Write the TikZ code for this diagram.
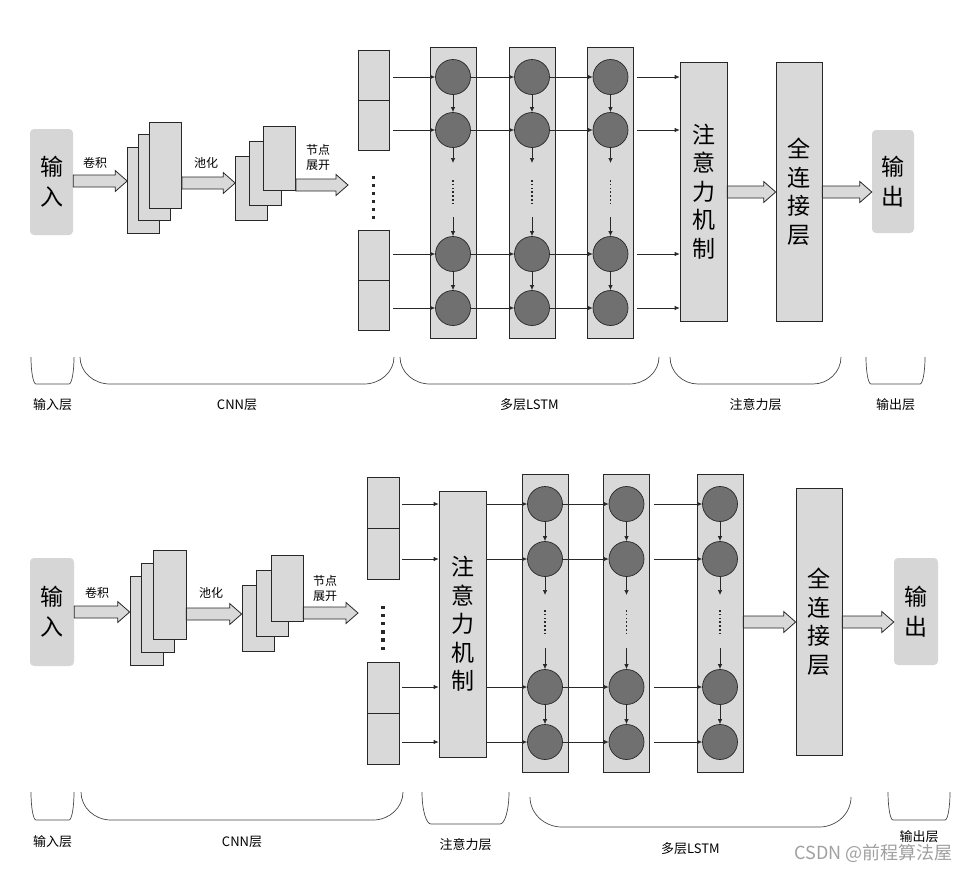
\documentclass[tikz,border=0pt]{standalone}
\usepackage{fontspec}
\newfontfamily\cjk{Noto Sans CJK SC}
\usetikzlibrary{arrows.meta,calc}
\definecolor{boxgray}{RGB}{217,217,217}
\definecolor{iogray}{RGB}{214,214,214}
\definecolor{cellgray}{RGB}{112,112,112}
\definecolor{linegray}{RGB}{40,40,40}
\definecolor{markgray}{RGB}{160,160,160}

\tikzset{
  box/.style={draw=linegray,fill=boxgray,line width=0.7pt,inner sep=0pt},
  iobox/.style={fill=iogray,rounded corners=4pt,inner sep=0pt,align=center,font=\cjk\fontsize{23}{30}\selectfont},
  fmap/.style={box},
  lstmcol/.style={box,minimum width=46pt},
  neuron/.style={circle,draw=linegray,fill=cellgray,line width=0.7pt,minimum size=35pt,inner sep=0pt},
  flow/.style={-{Latex[length=5pt,width=4.5pt]},draw=linegray,line width=0.7pt},
  fat/.style={draw=linegray,fill=boxgray,line width=0.8pt},
  opname/.style={font=\cjk\fontsize{12}{15}\selectfont,align=center},
  layername/.style={font=\cjk\fontsize{13}{15}\selectfont},
  bigtext/.style={font=\cjk\fontsize{23}{28.5}\selectfont,align=center},
  dots/.style={draw=linegray,line width=1.6pt,dash pattern=on 1.6pt off 2.2pt},
  brace/.style={draw=linegray!85,line width=0.7pt},
}

% fat arrow from the x of #1 to the x of #2, at height #3
\newcommand{\fatarrow}[3]{%
  \filldraw[fat] let \p1=(#1), \p2=(#2), \p3=(0,#3) in
    (\x1,\y3+6pt) -- (\x2-12pt,\y3+6pt) -- (\x2-12pt,\y3+10.5pt) -- (\x2,\y3)
    -- (\x2-12pt,\y3-10.5pt) -- (\x2-12pt,\y3-6pt) -- (\x1,\y3-6pt) -- cycle;}
% open bracket under a group of layers: x1, x2, top, bottom, corner width
\newcommand{\layerbrace}[5]{%
  \draw[brace] (#1,#3) .. controls (#1,{#3+0.55*(#4-#3)}) and ({#1+0.45*#5},#4) .. ({#1+#5},#4)
    -- ({#2-#5},#4) .. controls ({#2-0.45*#5},#4) and (#2,{#3+0.55*(#4-#3)}) .. (#2,#3);}

\begin{document}
\begin{tikzpicture}[x=1pt,y=-1pt]
    \useasboundingbox[fill=white] (0,0) rectangle (968,873);

    % ===== upper model: CNN -> LSTM -> attention =====
    % Input and CNN
    \node[iobox,minimum width=43pt,minimum height=106pt] (tin) at (51.5,182) {输\\入};
    \foreach \i/\k in {a/0,b/1,c/2}
        \node[fmap,minimum width=32pt,minimum height=86pt] (tca\i) at (143.5+11*\k,190-12.5*\k) {};
    \foreach \i/\k in {a/0,b/1,c/2}
        \node[fmap,minimum width=32pt,minimum height=64pt] (tpo\i) at (251.5+14*\k,188-14.75*\k) {};
    \coordinate (tflat) at (348,185);
    \fatarrow{tin.east}{tcaa.west}{181}
    \fatarrow{tcac.east}{tpoa.west}{183}
    \fatarrow{tpoc.east}{tflat}{185}
    \node[opname] (tconv) at (95,163) {卷积};
    \node[opname] (tpool) at (206,163) {池化};
    \node[opname] (tunfold) at (318,157) {节点\\展开};

    % Flattened vector
    \foreach \n/\y in {1/75.5,2/125.5,3/255,4/305}
        \node[box,minimum width=31pt,minimum height=50pt] (tv\n) at (373.5,\y) {};
    \foreach \k in {0,...,5}
        \fill[linegray] (371.75,175.5+8*\k) rectangle ++(3.5,3.5);

    % LSTM columns
    \foreach \c/\x in {1/453,2/532,3/610.5} {
        \node[lstmcol,minimum height=291pt] (tcol\c) at (\x,192.5) {};
        \foreach \r/\y in {1/77,2/130,3/254,4/308}
            \node[neuron] (tn\c\r) at (\x,\y) {};
        \coordinate (tdown\c) at (\x,163);
        \coordinate (tdota\c) at (\x,180);
        \coordinate (tdotb\c) at (\x,205);
        \coordinate (tup\c) at (\x,217);
        \draw[flow] (tn\c1) -- (tn\c2);
        \draw[flow] (tn\c2) -- (tdown\c);
        \draw[dots] (tdota\c) -- (tdotb\c);
        \draw[flow] (tup\c) -- (tn\c3);
        \draw[flow] (tn\c3) -- (tn\c4);
    }

    % Attention, dense, output
    \node[box,bigtext,minimum width=47pt,minimum height=259pt] (tatt) at (703.5,191.5) {注\\意\\力\\机\\制};
    \node[box,bigtext,minimum width=46pt,minimum height=259pt] (tfc) at (799,191.5) {全\\连\\接\\层};
    \node[iobox,minimum width=42pt,minimum height=103pt] (tout) at (893,181.5) {输\\出};

    \foreach \r in {1,...,4} {
        \draw[flow,shorten <=4pt] (tv\r.east |- tn1\r) -- (tn1\r);
        \draw[flow] (tn1\r) -- (tn2\r);
        \draw[flow] (tn2\r) -- (tn3\r);
        \draw[flow,shorten <=9pt] (tn3\r) -- (tatt.west |- tn3\r);
    }
    \fatarrow{tatt.east}{tfc.west}{192}
    \fatarrow{tfc.east}{tout.west}{192}

    % Layer groups
    \foreach \xa/\xb/\txt/\rad [count=\i] in {31/74/输入层/5, 80/394/CNN层/30, 400/659/多层LSTM/30, 670/841/注意力层/28, 866/925/输出层/5} {
        \layerbrace{\xa}{\xb}{357}{384}{\rad}
        \node[layername] (tlab\i) at ({(\xa+\xb)/2},405) {\txt};
    }

    % ===== lower model: CNN -> attention -> LSTM =====
    % Input and CNN
    \node[iobox,minimum width=44pt,minimum height=108pt] (bin) at (52,612) {输\\入};
    \foreach \i/\k in {a/0,b/1,c/2}
        \node[fmap,minimum width=33pt,minimum height=89pt] (bca\i) at (146.5+11.5*\k,620.5-12.75*\k) {};
    \foreach \i/\k in {a/0,b/1,c/2}
        \node[fmap,minimum width=32pt,minimum height=66pt] (bpo\i) at (258+14.5*\k,618.5-15.25*\k) {};
    \coordinate (bflat) at (358,613);
    \fatarrow{bin.east}{bcaa.west}{612}
    \fatarrow{bcac.east}{bpoa.west}{614}
    \fatarrow{bpoc.east}{bflat}{613}
    \node[opname] (bconv) at (97,593) {卷积};
    \node[opname] (bpool) at (211,593) {池化};
    \node[opname] (bunfold) at (325,588) {节点\\展开};

    % Flattened vector
    \foreach \n/\y in {1/502.5,2/553.5,3/687.5,4/738.5}
        \node[box,minimum width=32pt,minimum height=51pt] (bv\n) at (383,\y) {};
    \foreach \k in {0,...,5}
        \fill[linegray] (381.25,605.5+8.2*\k) rectangle ++(3.5,3.5);

    % Attention
    \node[box,bigtext,minimum width=47pt,minimum height=266pt] (batt) at (462.5,624) {注\\意\\力\\机\\制};

    % LSTM columns
    \foreach \c/\x in {1/545,2/626.5,3/720} {
        \node[lstmcol,minimum height=298pt] (bcol\c) at (\x,623) {};
        \foreach \r/\y in {1/504,2/559,3/687,4/742}
            \node[neuron] (bn\c\r) at (\x,\y) {};
        \coordinate (bdown\c) at (\x,595);
        \coordinate (bdota\c) at (\x,610);
        \coordinate (bdotb\c) at (\x,635);
        \coordinate (bup\c) at (\x,648);
        \draw[flow] (bn\c1) -- (bn\c2);
        \draw[flow] (bn\c2) -- (bdown\c);
        \draw[dots] (bdota\c) -- (bdotb\c);
        \draw[flow] (bup\c) -- (bn\c3);
        \draw[flow] (bn\c3) -- (bn\c4);
    }

    % Dense and output
    \node[box,bigtext,minimum width=46pt,minimum height=267pt] (bfc) at (819,621.5) {全\\连\\接\\层};
    \node[iobox,minimum width=44pt,minimum height=107pt] (bout) at (916,611.5) {输\\出};

    \foreach \r in {1,...,4} {
        \draw[flow,shorten <=3pt] (bv\r.east |- bn1\r) -- (batt.west |- bn1\r);
        \draw[flow] (batt.east |- bn1\r) -- (bn1\r);
        \draw[flow] (bn1\r) -- (bn2\r);
        \draw[flow,shorten <=10pt] (bn2\r) -- (bn3\r);
    }
    \fatarrow{bcol3.east}{bfc.west}{622}
    \fatarrow{bfc.east}{bout.west}{622}

    % Layer groups
    \foreach \xa/\xb/\ya/\yb/\yl/\txt/\rad [count=\i] in {31/74/792/820/842/输入层/5, 81/403/792/820/842/CNN层/30, 422/509/792/824/845/注意力层/9, 530/851/797/827/849/多层LSTM/32, 888/950/792/820/837/输出层/5} {
        \layerbrace{\xa}{\xb}{\ya}{\yb}{\rad}
        \node[layername] (blab\i) at ({(\xa+\xb)/2},\yl) {\txt};
    }

    % Watermark
    \node[font=\cjk\fontsize{18}{20}\selectfont,text=markgray,anchor=east] (wm) at (956,853) {CSDN @前程算法屋};
\end{tikzpicture}
\end{document}
